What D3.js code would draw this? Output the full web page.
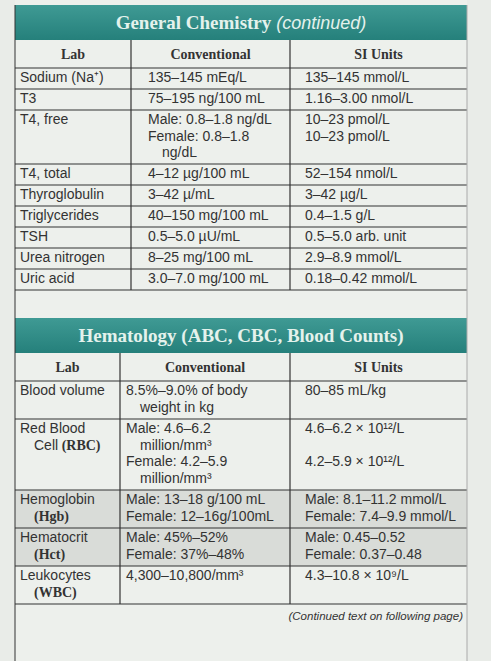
<!DOCTYPE html>
<html><head><meta charset="utf-8">
<script src="https://cdn.jsdelivr.net/npm/d3@7.9.0/dist/d3.min.js"></script>
<style>body{margin:0;background:#e9ece8;}svg{display:block;}</style>
</head><body>
<svg id="chart" width="491" height="661"></svg>
<script>
// table content, one line per array entry
const chemRows = [
  [["Sodium (Na⁺)"], ["135–145 mEq/L"], ["135–145 mmol/L"]],
  [["T3"], ["75–195 ng/100 mL"], ["1.16–3.00 nmol/L"]],
  [["T4, free"], ["Male: 0.8–1.8 ng/dL", "Female: 0.8–1.8", "   ng/dL"], ["10–23 pmol/L", "10–23 pmol/L"]],
  [["T4, total"], ["4–12 µg/100 mL"], ["52–154 nmol/L"]],
  [["Thyroglobulin"], ["3–42 µ/mL"], ["3–42 µg/L"]],
  [["Triglycerides"], ["40–150 mg/100 mL"], ["0.4–1.5 g/L"]],
  [["TSH"], ["0.5–5.0 µU/mL"], ["0.5–5.0 arb. unit"]],
  [["Urea nitrogen"], ["8–25 mg/100 mL"], ["2.9–8.9 mmol/L"]],
  [["Uric acid"], ["3.0–7.0 mg/100 mL"], ["0.18–0.42 mmol/L"]]
];
const hemRows = [
  [["Blood volume"], ["8.5%–9.0% of body", "   weight in kg"], ["80–85 mL/kg"]],
  [["Red Blood", "   Cell (RBC)"], ["Male: 4.6–6.2", "   million/mm³", "Female: 4.2–5.9", "   million/mm³"], ["4.6–6.2 × 10¹²/L", "", "4.2–5.9 × 10¹²/L"]],
  [["Hemoglobin", "   (Hgb)"], ["Male: 13–18 g/100 mL", "Female: 12–16g/100mL"], ["Male: 8.1–11.2 mmol/L", "Female: 7.4–9.9 mmol/L"]],
  [["Hematocrit", "   (Hct)"], ["Male: 45%–52%", "Female: 37%–48%"], ["Male: 0.45–0.52", "Female: 0.37–0.48"]],
  [["Leukocytes", "   (WBC)"], ["4,300–10,800/mm³"], ["4.3–10.8 × 10⁹/L"]]
];
const headers = ["Lab", "Conventional", "SI Units"];
const shadedHem = [2, 3];

const svg = d3.select("#chart");
const left = 15, right = 467, lh = 16.5;
const ink = "#333";

svg.append("rect").attr("x", left).attr("y", 0).attr("width", right - left).attr("height", 661)
  .attr("fill", "#edf0ec");

function section(top, title, italic, cols, offs, rows, pad, shaded) {
  const x = d3.scaleOrdinal().domain([0, 1, 2]).range([left, cols[0], cols[1]]);
  const xEnd = [cols[0], cols[1], right];
  // banner
  const bg = svg.append("linearGradient").attr("id", "g" + top).attr("x2", 0).attr("y2", 1);
  bg.append("stop").attr("offset", 0).attr("stop-color", "#3f9a94");
  bg.append("stop").attr("offset", 1).attr("stop-color", "#25807b");
  svg.append("rect").attr("x", left).attr("y", top).attr("width", right - left).attr("height", 35)
    .attr("fill", `url(#g${top})`);
  const t = svg.append("text").attr("x", (left + right) / 2).attr("y", top + 24)
    .attr("text-anchor", "middle").attr("fill", "#e4f2ec").attr("font-size", 19);
  t.append("tspan").attr("font-family", "Liberation Serif").attr("font-weight", "bold").text(title);
  if (italic) t.append("tspan").attr("font-family", "Liberation Sans").attr("font-style", "italic")
    .attr("font-weight", "normal").attr("font-size", 18).text(" " + italic);

  const hTop = top + 35, hH = 28;
  headers.forEach((h, i) => {
    svg.append("text").attr("x", (x(i) + xEnd[i]) / 2).attr("y", hTop + 19).attr("text-anchor", "middle")
      .attr("font-family", "Liberation Serif").attr("font-weight", "bold").attr("font-size", 14)
      .attr("fill", ink).text(h);
  });
  let y = hTop + hH;
  const lines = [hTop + hH];
  rows.forEach((r, ri) => {
    const n = d3.max(r, c => c.length);
    const h = pad + n * lh;
    if (shaded.includes(ri)) svg.append("rect").attr("x", left).attr("y", y).attr("width", right - left)
      .attr("height", h).attr("fill", "#d9dcd8");
    r.forEach((cell, ci) => {
      cell.forEach((line, li) => {
        const m = line.match(/^(\s*)(.*?)(\s*\((RBC|Hgb|Hct|WBC)\))?$/);
        const tx = svg.append("text").attr("x", x(ci) + offs[ci] + (m[1].length ? 14 : 0))
          .attr("y", y + 14 + li * lh).attr("font-family", "Liberation Sans").attr("font-size", 14)
          .attr("fill", ink);
        tx.append("tspan").text(m[2]);
        if (m[3]) tx.append("tspan").attr("font-family", "Liberation Serif").attr("font-weight", "bold")
          .text(m[3]);
      });
    });
    y += h;
    lines.push(y);
  });
  lines.forEach(ly => svg.append("line").attr("x1", left).attr("x2", right).attr("y1", ly).attr("y2", ly)
    .attr("stroke", ink).attr("stroke-width", 1.2));
  cols.forEach(cx => svg.append("line").attr("x1", cx).attr("x2", cx).attr("y1", hTop).attr("y2", y)
    .attr("stroke", ink).attr("stroke-width", 1.2));
  return y;
}

section(5, "General Chemistry", "(continued)", [131, 290], [5, 17, 15], chemRows, 4.5, []);
const end = section(318, "Hematology (ABC, CBC, Blood Counts)", null, [120, 290], [5, 6, 15], hemRows, 5, shadedHem);

svg.append("text").attr("x", 463).attr("y", end + 16).attr("text-anchor", "end")
  .attr("font-family", "Liberation Sans").attr("font-style", "italic").attr("font-size", 11.5)
  .attr("fill", ink).text("(Continued text on following page)");
svg.append("line").attr("x1", left).attr("x2", left).attr("y1", 5).attr("y2", 661).attr("stroke", ink);
svg.append("line").attr("x1", right).attr("x2", right).attr("y1", 5).attr("y2", 661).attr("stroke", "#aaa");
</script>
</body></html>
